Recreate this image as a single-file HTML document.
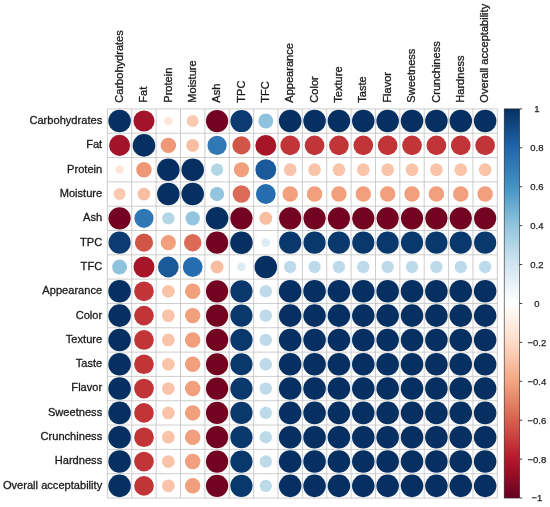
<!DOCTYPE html>
<html><head><meta charset="utf-8"><title>Correlation plot</title>
<style>html,body{margin:0;padding:0;background:#fff}body{width:550px;height:507px;position:relative;overflow:hidden}svg text{font-family:"Liberation Sans",sans-serif}</style>
</head><body>
<svg width="550" height="507" viewBox="0 0 550 507" style="position:absolute;left:0;top:0">
<rect width="550" height="507" fill="#fff"/>
<path d="M107.40 108.90V498.02M107.40 108.90H497.32M131.77 108.90V498.02M107.40 133.22H497.32M156.14 108.90V498.02M107.40 157.54H497.32M180.51 108.90V498.02M107.40 181.86H497.32M204.88 108.90V498.02M107.40 206.18H497.32M229.25 108.90V498.02M107.40 230.50H497.32M253.62 108.90V498.02M107.40 254.82H497.32M277.99 108.90V498.02M107.40 279.14H497.32M302.36 108.90V498.02M107.40 303.46H497.32M326.73 108.90V498.02M107.40 327.78H497.32M351.10 108.90V498.02M107.40 352.10H497.32M375.47 108.90V498.02M107.40 376.42H497.32M399.84 108.90V498.02M107.40 400.74H497.32M424.21 108.90V498.02M107.40 425.06H497.32M448.58 108.90V498.02M107.40 449.38H497.32M472.95 108.90V498.02M107.40 473.70H497.32M497.32 108.90V498.02M107.40 498.02H497.32" stroke="#c0c0c0" stroke-width="0.8" fill="none"/>
<circle cx="119.59" cy="121.06" r="11.28" fill="#053061"/>
<circle cx="143.96" cy="121.06" r="10.52" fill="#a31329"/>
<circle cx="168.33" cy="121.06" r="4.22" fill="#fee5d6"/>
<circle cx="192.69" cy="121.06" r="5.97" fill="#fac9b0"/>
<circle cx="217.06" cy="121.06" r="11.11" fill="#720421"/>
<circle cx="241.44" cy="121.06" r="11.06" fill="#0b3b70"/>
<circle cx="265.81" cy="121.06" r="7.48" fill="#8fc3dd"/>
<circle cx="290.18" cy="121.06" r="11.28" fill="#053061"/>
<circle cx="314.55" cy="121.06" r="11.28" fill="#053061"/>
<circle cx="338.92" cy="121.06" r="11.28" fill="#053061"/>
<circle cx="363.29" cy="121.06" r="11.28" fill="#053061"/>
<circle cx="387.65" cy="121.06" r="11.28" fill="#053061"/>
<circle cx="412.02" cy="121.06" r="11.28" fill="#053061"/>
<circle cx="436.39" cy="121.06" r="11.28" fill="#053061"/>
<circle cx="460.76" cy="121.06" r="11.28" fill="#053061"/>
<circle cx="485.13" cy="121.06" r="11.28" fill="#053061"/>
<circle cx="119.59" cy="145.38" r="10.52" fill="#a31329"/>
<circle cx="143.96" cy="145.38" r="11.28" fill="#053061"/>
<circle cx="168.33" cy="145.38" r="7.74" fill="#ee9878"/>
<circle cx="192.69" cy="145.38" r="6.38" fill="#f8bea2"/>
<circle cx="217.06" cy="145.38" r="9.57" fill="#2f78b5"/>
<circle cx="241.44" cy="145.38" r="9.10" fill="#d15648"/>
<circle cx="265.81" cy="145.38" r="10.46" fill="#a71529"/>
<circle cx="290.18" cy="145.38" r="9.84" fill="#c13539"/>
<circle cx="314.55" cy="145.38" r="9.84" fill="#c13539"/>
<circle cx="338.92" cy="145.38" r="9.84" fill="#c13539"/>
<circle cx="363.29" cy="145.38" r="9.84" fill="#c13539"/>
<circle cx="387.65" cy="145.38" r="9.84" fill="#c13539"/>
<circle cx="412.02" cy="145.38" r="9.84" fill="#c13539"/>
<circle cx="436.39" cy="145.38" r="9.84" fill="#c13539"/>
<circle cx="460.76" cy="145.38" r="9.84" fill="#c13539"/>
<circle cx="485.13" cy="145.38" r="9.84" fill="#c13539"/>
<circle cx="119.59" cy="169.70" r="4.22" fill="#fee5d6"/>
<circle cx="143.96" cy="169.70" r="7.74" fill="#ee9878"/>
<circle cx="168.33" cy="169.70" r="11.28" fill="#053061"/>
<circle cx="192.69" cy="169.70" r="11.28" fill="#053061"/>
<circle cx="217.06" cy="169.70" r="6.18" fill="#b3d6e7"/>
<circle cx="241.44" cy="169.70" r="7.57" fill="#f19f7d"/>
<circle cx="265.81" cy="169.70" r="10.40" fill="#1a599a"/>
<circle cx="290.18" cy="169.70" r="6.38" fill="#f9c4a9"/>
<circle cx="314.55" cy="169.70" r="6.38" fill="#f9c4a9"/>
<circle cx="338.92" cy="169.70" r="6.38" fill="#f9c4a9"/>
<circle cx="363.29" cy="169.70" r="6.38" fill="#f9c4a9"/>
<circle cx="387.65" cy="169.70" r="6.38" fill="#f9c4a9"/>
<circle cx="412.02" cy="169.70" r="6.38" fill="#f9c4a9"/>
<circle cx="436.39" cy="169.70" r="6.38" fill="#f9c4a9"/>
<circle cx="460.76" cy="169.70" r="6.38" fill="#f9c4a9"/>
<circle cx="485.13" cy="169.70" r="6.38" fill="#f9c4a9"/>
<circle cx="119.59" cy="194.02" r="5.97" fill="#fac9b0"/>
<circle cx="143.96" cy="194.02" r="6.38" fill="#f8bea2"/>
<circle cx="168.33" cy="194.02" r="11.28" fill="#053061"/>
<circle cx="192.69" cy="194.02" r="11.28" fill="#053061"/>
<circle cx="217.06" cy="194.02" r="7.14" fill="#93c5de"/>
<circle cx="241.44" cy="194.02" r="8.74" fill="#db6b56"/>
<circle cx="265.81" cy="194.02" r="9.90" fill="#266db0"/>
<circle cx="290.18" cy="194.02" r="7.74" fill="#f19f7d"/>
<circle cx="314.55" cy="194.02" r="7.74" fill="#f19f7d"/>
<circle cx="338.92" cy="194.02" r="7.74" fill="#f19f7d"/>
<circle cx="363.29" cy="194.02" r="7.74" fill="#f19f7d"/>
<circle cx="387.65" cy="194.02" r="7.74" fill="#f19f7d"/>
<circle cx="412.02" cy="194.02" r="7.74" fill="#f19f7d"/>
<circle cx="436.39" cy="194.02" r="7.74" fill="#f19f7d"/>
<circle cx="460.76" cy="194.02" r="7.74" fill="#f19f7d"/>
<circle cx="485.13" cy="194.02" r="7.74" fill="#f19f7d"/>
<circle cx="119.59" cy="218.34" r="11.11" fill="#720421"/>
<circle cx="143.96" cy="218.34" r="9.57" fill="#2f78b5"/>
<circle cx="168.33" cy="218.34" r="6.18" fill="#b3d6e7"/>
<circle cx="192.69" cy="218.34" r="7.14" fill="#93c5de"/>
<circle cx="217.06" cy="218.34" r="11.28" fill="#053061"/>
<circle cx="241.44" cy="218.34" r="11.11" fill="#720421"/>
<circle cx="265.81" cy="218.34" r="6.48" fill="#f8bea2"/>
<circle cx="290.18" cy="218.34" r="11.11" fill="#720421"/>
<circle cx="314.55" cy="218.34" r="11.11" fill="#720421"/>
<circle cx="338.92" cy="218.34" r="11.11" fill="#720421"/>
<circle cx="363.29" cy="218.34" r="11.11" fill="#720421"/>
<circle cx="387.65" cy="218.34" r="11.11" fill="#720421"/>
<circle cx="412.02" cy="218.34" r="11.11" fill="#720421"/>
<circle cx="436.39" cy="218.34" r="11.11" fill="#720421"/>
<circle cx="460.76" cy="218.34" r="11.11" fill="#720421"/>
<circle cx="485.13" cy="218.34" r="11.11" fill="#720421"/>
<circle cx="119.59" cy="242.66" r="11.06" fill="#0b3b70"/>
<circle cx="143.96" cy="242.66" r="9.10" fill="#d15648"/>
<circle cx="168.33" cy="242.66" r="7.57" fill="#f19f7d"/>
<circle cx="192.69" cy="242.66" r="8.74" fill="#db6b56"/>
<circle cx="217.06" cy="242.66" r="11.11" fill="#720421"/>
<circle cx="241.44" cy="242.66" r="11.28" fill="#053061"/>
<circle cx="265.81" cy="242.66" r="4.37" fill="#ddecf4"/>
<circle cx="290.18" cy="242.66" r="11.11" fill="#09386c"/>
<circle cx="314.55" cy="242.66" r="11.11" fill="#09386c"/>
<circle cx="338.92" cy="242.66" r="11.11" fill="#09386c"/>
<circle cx="363.29" cy="242.66" r="11.11" fill="#09386c"/>
<circle cx="387.65" cy="242.66" r="11.11" fill="#09386c"/>
<circle cx="412.02" cy="242.66" r="11.11" fill="#09386c"/>
<circle cx="436.39" cy="242.66" r="11.11" fill="#09386c"/>
<circle cx="460.76" cy="242.66" r="11.11" fill="#09386c"/>
<circle cx="485.13" cy="242.66" r="11.11" fill="#09386c"/>
<circle cx="119.59" cy="266.98" r="7.48" fill="#8fc3dd"/>
<circle cx="143.96" cy="266.98" r="10.46" fill="#a71529"/>
<circle cx="168.33" cy="266.98" r="10.40" fill="#1a599a"/>
<circle cx="192.69" cy="266.98" r="9.90" fill="#266db0"/>
<circle cx="217.06" cy="266.98" r="6.48" fill="#f8bea2"/>
<circle cx="241.44" cy="266.98" r="4.37" fill="#ddecf4"/>
<circle cx="265.81" cy="266.98" r="11.28" fill="#053061"/>
<circle cx="290.18" cy="266.98" r="6.18" fill="#bcdaea"/>
<circle cx="314.55" cy="266.98" r="6.18" fill="#bcdaea"/>
<circle cx="338.92" cy="266.98" r="6.18" fill="#bcdaea"/>
<circle cx="363.29" cy="266.98" r="6.18" fill="#bcdaea"/>
<circle cx="387.65" cy="266.98" r="6.18" fill="#bcdaea"/>
<circle cx="412.02" cy="266.98" r="6.18" fill="#bcdaea"/>
<circle cx="436.39" cy="266.98" r="6.18" fill="#bcdaea"/>
<circle cx="460.76" cy="266.98" r="6.18" fill="#bcdaea"/>
<circle cx="485.13" cy="266.98" r="6.18" fill="#bcdaea"/>
<circle cx="119.59" cy="291.30" r="11.28" fill="#053061"/>
<circle cx="143.96" cy="291.30" r="9.84" fill="#c13539"/>
<circle cx="168.33" cy="291.30" r="6.38" fill="#f9c4a9"/>
<circle cx="192.69" cy="291.30" r="7.74" fill="#f19f7d"/>
<circle cx="217.06" cy="291.30" r="11.11" fill="#720421"/>
<circle cx="241.44" cy="291.30" r="11.11" fill="#09386c"/>
<circle cx="265.81" cy="291.30" r="6.18" fill="#bcdaea"/>
<circle cx="290.18" cy="291.30" r="11.28" fill="#053061"/>
<circle cx="314.55" cy="291.30" r="11.28" fill="#053061"/>
<circle cx="338.92" cy="291.30" r="11.28" fill="#053061"/>
<circle cx="363.29" cy="291.30" r="11.28" fill="#053061"/>
<circle cx="387.65" cy="291.30" r="11.28" fill="#053061"/>
<circle cx="412.02" cy="291.30" r="11.28" fill="#053061"/>
<circle cx="436.39" cy="291.30" r="11.28" fill="#053061"/>
<circle cx="460.76" cy="291.30" r="11.28" fill="#053061"/>
<circle cx="485.13" cy="291.30" r="11.28" fill="#053061"/>
<circle cx="119.59" cy="315.62" r="11.28" fill="#053061"/>
<circle cx="143.96" cy="315.62" r="9.84" fill="#c13539"/>
<circle cx="168.33" cy="315.62" r="6.38" fill="#f9c4a9"/>
<circle cx="192.69" cy="315.62" r="7.74" fill="#f19f7d"/>
<circle cx="217.06" cy="315.62" r="11.11" fill="#720421"/>
<circle cx="241.44" cy="315.62" r="11.11" fill="#09386c"/>
<circle cx="265.81" cy="315.62" r="6.18" fill="#bcdaea"/>
<circle cx="290.18" cy="315.62" r="11.28" fill="#053061"/>
<circle cx="314.55" cy="315.62" r="11.28" fill="#053061"/>
<circle cx="338.92" cy="315.62" r="11.28" fill="#053061"/>
<circle cx="363.29" cy="315.62" r="11.28" fill="#053061"/>
<circle cx="387.65" cy="315.62" r="11.28" fill="#053061"/>
<circle cx="412.02" cy="315.62" r="11.28" fill="#053061"/>
<circle cx="436.39" cy="315.62" r="11.28" fill="#053061"/>
<circle cx="460.76" cy="315.62" r="11.28" fill="#053061"/>
<circle cx="485.13" cy="315.62" r="11.28" fill="#053061"/>
<circle cx="119.59" cy="339.94" r="11.28" fill="#053061"/>
<circle cx="143.96" cy="339.94" r="9.84" fill="#c13539"/>
<circle cx="168.33" cy="339.94" r="6.38" fill="#f9c4a9"/>
<circle cx="192.69" cy="339.94" r="7.74" fill="#f19f7d"/>
<circle cx="217.06" cy="339.94" r="11.11" fill="#720421"/>
<circle cx="241.44" cy="339.94" r="11.11" fill="#09386c"/>
<circle cx="265.81" cy="339.94" r="6.18" fill="#bcdaea"/>
<circle cx="290.18" cy="339.94" r="11.28" fill="#053061"/>
<circle cx="314.55" cy="339.94" r="11.28" fill="#053061"/>
<circle cx="338.92" cy="339.94" r="11.28" fill="#053061"/>
<circle cx="363.29" cy="339.94" r="11.28" fill="#053061"/>
<circle cx="387.65" cy="339.94" r="11.28" fill="#053061"/>
<circle cx="412.02" cy="339.94" r="11.28" fill="#053061"/>
<circle cx="436.39" cy="339.94" r="11.28" fill="#053061"/>
<circle cx="460.76" cy="339.94" r="11.28" fill="#053061"/>
<circle cx="485.13" cy="339.94" r="11.28" fill="#053061"/>
<circle cx="119.59" cy="364.26" r="11.28" fill="#053061"/>
<circle cx="143.96" cy="364.26" r="9.84" fill="#c13539"/>
<circle cx="168.33" cy="364.26" r="6.38" fill="#f9c4a9"/>
<circle cx="192.69" cy="364.26" r="7.74" fill="#f19f7d"/>
<circle cx="217.06" cy="364.26" r="11.11" fill="#720421"/>
<circle cx="241.44" cy="364.26" r="11.11" fill="#09386c"/>
<circle cx="265.81" cy="364.26" r="6.18" fill="#bcdaea"/>
<circle cx="290.18" cy="364.26" r="11.28" fill="#053061"/>
<circle cx="314.55" cy="364.26" r="11.28" fill="#053061"/>
<circle cx="338.92" cy="364.26" r="11.28" fill="#053061"/>
<circle cx="363.29" cy="364.26" r="11.28" fill="#053061"/>
<circle cx="387.65" cy="364.26" r="11.28" fill="#053061"/>
<circle cx="412.02" cy="364.26" r="11.28" fill="#053061"/>
<circle cx="436.39" cy="364.26" r="11.28" fill="#053061"/>
<circle cx="460.76" cy="364.26" r="11.28" fill="#053061"/>
<circle cx="485.13" cy="364.26" r="11.28" fill="#053061"/>
<circle cx="119.59" cy="388.58" r="11.28" fill="#053061"/>
<circle cx="143.96" cy="388.58" r="9.84" fill="#c13539"/>
<circle cx="168.33" cy="388.58" r="6.38" fill="#f9c4a9"/>
<circle cx="192.69" cy="388.58" r="7.74" fill="#f19f7d"/>
<circle cx="217.06" cy="388.58" r="11.11" fill="#720421"/>
<circle cx="241.44" cy="388.58" r="11.11" fill="#09386c"/>
<circle cx="265.81" cy="388.58" r="6.18" fill="#bcdaea"/>
<circle cx="290.18" cy="388.58" r="11.28" fill="#053061"/>
<circle cx="314.55" cy="388.58" r="11.28" fill="#053061"/>
<circle cx="338.92" cy="388.58" r="11.28" fill="#053061"/>
<circle cx="363.29" cy="388.58" r="11.28" fill="#053061"/>
<circle cx="387.65" cy="388.58" r="11.28" fill="#053061"/>
<circle cx="412.02" cy="388.58" r="11.28" fill="#053061"/>
<circle cx="436.39" cy="388.58" r="11.28" fill="#053061"/>
<circle cx="460.76" cy="388.58" r="11.28" fill="#053061"/>
<circle cx="485.13" cy="388.58" r="11.28" fill="#053061"/>
<circle cx="119.59" cy="412.90" r="11.28" fill="#053061"/>
<circle cx="143.96" cy="412.90" r="9.84" fill="#c13539"/>
<circle cx="168.33" cy="412.90" r="6.38" fill="#f9c4a9"/>
<circle cx="192.69" cy="412.90" r="7.74" fill="#f19f7d"/>
<circle cx="217.06" cy="412.90" r="11.11" fill="#720421"/>
<circle cx="241.44" cy="412.90" r="11.11" fill="#09386c"/>
<circle cx="265.81" cy="412.90" r="6.18" fill="#bcdaea"/>
<circle cx="290.18" cy="412.90" r="11.28" fill="#053061"/>
<circle cx="314.55" cy="412.90" r="11.28" fill="#053061"/>
<circle cx="338.92" cy="412.90" r="11.28" fill="#053061"/>
<circle cx="363.29" cy="412.90" r="11.28" fill="#053061"/>
<circle cx="387.65" cy="412.90" r="11.28" fill="#053061"/>
<circle cx="412.02" cy="412.90" r="11.28" fill="#053061"/>
<circle cx="436.39" cy="412.90" r="11.28" fill="#053061"/>
<circle cx="460.76" cy="412.90" r="11.28" fill="#053061"/>
<circle cx="485.13" cy="412.90" r="11.28" fill="#053061"/>
<circle cx="119.59" cy="437.22" r="11.28" fill="#053061"/>
<circle cx="143.96" cy="437.22" r="9.84" fill="#c13539"/>
<circle cx="168.33" cy="437.22" r="6.38" fill="#f9c4a9"/>
<circle cx="192.69" cy="437.22" r="7.74" fill="#f19f7d"/>
<circle cx="217.06" cy="437.22" r="11.11" fill="#720421"/>
<circle cx="241.44" cy="437.22" r="11.11" fill="#09386c"/>
<circle cx="265.81" cy="437.22" r="6.18" fill="#bcdaea"/>
<circle cx="290.18" cy="437.22" r="11.28" fill="#053061"/>
<circle cx="314.55" cy="437.22" r="11.28" fill="#053061"/>
<circle cx="338.92" cy="437.22" r="11.28" fill="#053061"/>
<circle cx="363.29" cy="437.22" r="11.28" fill="#053061"/>
<circle cx="387.65" cy="437.22" r="11.28" fill="#053061"/>
<circle cx="412.02" cy="437.22" r="11.28" fill="#053061"/>
<circle cx="436.39" cy="437.22" r="11.28" fill="#053061"/>
<circle cx="460.76" cy="437.22" r="11.28" fill="#053061"/>
<circle cx="485.13" cy="437.22" r="11.28" fill="#053061"/>
<circle cx="119.59" cy="461.54" r="11.28" fill="#053061"/>
<circle cx="143.96" cy="461.54" r="9.84" fill="#c13539"/>
<circle cx="168.33" cy="461.54" r="6.38" fill="#f9c4a9"/>
<circle cx="192.69" cy="461.54" r="7.74" fill="#f19f7d"/>
<circle cx="217.06" cy="461.54" r="11.11" fill="#720421"/>
<circle cx="241.44" cy="461.54" r="11.11" fill="#09386c"/>
<circle cx="265.81" cy="461.54" r="6.18" fill="#bcdaea"/>
<circle cx="290.18" cy="461.54" r="11.28" fill="#053061"/>
<circle cx="314.55" cy="461.54" r="11.28" fill="#053061"/>
<circle cx="338.92" cy="461.54" r="11.28" fill="#053061"/>
<circle cx="363.29" cy="461.54" r="11.28" fill="#053061"/>
<circle cx="387.65" cy="461.54" r="11.28" fill="#053061"/>
<circle cx="412.02" cy="461.54" r="11.28" fill="#053061"/>
<circle cx="436.39" cy="461.54" r="11.28" fill="#053061"/>
<circle cx="460.76" cy="461.54" r="11.28" fill="#053061"/>
<circle cx="485.13" cy="461.54" r="11.28" fill="#053061"/>
<circle cx="119.59" cy="485.86" r="11.28" fill="#053061"/>
<circle cx="143.96" cy="485.86" r="9.84" fill="#c13539"/>
<circle cx="168.33" cy="485.86" r="6.38" fill="#f9c4a9"/>
<circle cx="192.69" cy="485.86" r="7.74" fill="#f19f7d"/>
<circle cx="217.06" cy="485.86" r="11.11" fill="#720421"/>
<circle cx="241.44" cy="485.86" r="11.11" fill="#09386c"/>
<circle cx="265.81" cy="485.86" r="6.18" fill="#bcdaea"/>
<circle cx="290.18" cy="485.86" r="11.28" fill="#053061"/>
<circle cx="314.55" cy="485.86" r="11.28" fill="#053061"/>
<circle cx="338.92" cy="485.86" r="11.28" fill="#053061"/>
<circle cx="363.29" cy="485.86" r="11.28" fill="#053061"/>
<circle cx="387.65" cy="485.86" r="11.28" fill="#053061"/>
<circle cx="412.02" cy="485.86" r="11.28" fill="#053061"/>
<circle cx="436.39" cy="485.86" r="11.28" fill="#053061"/>
<circle cx="460.76" cy="485.86" r="11.28" fill="#053061"/>
<circle cx="485.13" cy="485.86" r="11.28" fill="#053061"/>
<defs><linearGradient id="cb" x1="0" y1="0" x2="0" y2="1">
<stop offset="0.00" stop-color="#053061"/>
<stop offset="0.10" stop-color="#2166AC"/>
<stop offset="0.20" stop-color="#4393C3"/>
<stop offset="0.30" stop-color="#92C5DE"/>
<stop offset="0.40" stop-color="#D1E5F0"/>
<stop offset="0.50" stop-color="#FFFFFF"/>
<stop offset="0.60" stop-color="#FDDBC7"/>
<stop offset="0.70" stop-color="#F4A582"/>
<stop offset="0.80" stop-color="#D6604D"/>
<stop offset="0.90" stop-color="#B2182B"/>
<stop offset="1.00" stop-color="#67001F"/>
</linearGradient></defs>
<rect x="504.2" y="108.90" width="15.40" height="389.12" fill="url(#cb)" stroke="#222" stroke-width="0.6"/>
<path d="M519.6 108.90h2.6" stroke="#222" stroke-width="0.9"/>
<text x="536.9" y="112.30" font-size="9.5" text-anchor="middle" fill="#222" stroke="#222" stroke-width="0.25">1</text>
<path d="M519.6 147.81h2.6" stroke="#222" stroke-width="0.9"/>
<text x="536.9" y="151.41" font-size="9.5" text-anchor="middle" fill="#222" stroke="#222" stroke-width="0.25">0.8</text>
<path d="M519.6 186.72h2.6" stroke="#222" stroke-width="0.9"/>
<text x="536.9" y="190.32" font-size="9.5" text-anchor="middle" fill="#222" stroke="#222" stroke-width="0.25">0.6</text>
<path d="M519.6 225.64h2.6" stroke="#222" stroke-width="0.9"/>
<text x="536.9" y="229.24" font-size="9.5" text-anchor="middle" fill="#222" stroke="#222" stroke-width="0.25">0.4</text>
<path d="M519.6 264.55h2.6" stroke="#222" stroke-width="0.9"/>
<text x="536.9" y="268.15" font-size="9.5" text-anchor="middle" fill="#222" stroke="#222" stroke-width="0.25">0.2</text>
<path d="M519.6 303.46h2.6" stroke="#222" stroke-width="0.9"/>
<text x="536.9" y="307.06" font-size="9.5" text-anchor="middle" fill="#222" stroke="#222" stroke-width="0.25">0</text>
<path d="M519.6 342.37h2.6" stroke="#222" stroke-width="0.9"/>
<text x="536.9" y="345.97" font-size="9.5" text-anchor="middle" fill="#222" stroke="#222" stroke-width="0.25">−0.2</text>
<path d="M519.6 381.28h2.6" stroke="#222" stroke-width="0.9"/>
<text x="536.9" y="384.88" font-size="9.5" text-anchor="middle" fill="#222" stroke="#222" stroke-width="0.25">−0.4</text>
<path d="M519.6 420.20h2.6" stroke="#222" stroke-width="0.9"/>
<text x="536.9" y="423.80" font-size="9.5" text-anchor="middle" fill="#222" stroke="#222" stroke-width="0.25">−0.6</text>
<path d="M519.6 459.11h2.6" stroke="#222" stroke-width="0.9"/>
<text x="536.9" y="462.71" font-size="9.5" text-anchor="middle" fill="#222" stroke="#222" stroke-width="0.25">−0.8</text>
<path d="M519.6 498.02h2.6" stroke="#222" stroke-width="0.9"/>
<text x="536.9" y="500.82" font-size="9.5" text-anchor="middle" fill="#222" stroke="#222" stroke-width="0.25">−1</text>
<text x="102.2" y="123.96" font-size="11.1" text-anchor="end" fill="#1a1a1a" stroke="#1a1a1a" stroke-width="0.3">Carbohydrates</text>
<text x="102.2" y="148.28" font-size="11.1" text-anchor="end" fill="#1a1a1a" stroke="#1a1a1a" stroke-width="0.3">Fat</text>
<text x="102.2" y="172.60" font-size="11.1" text-anchor="end" fill="#1a1a1a" stroke="#1a1a1a" stroke-width="0.3">Protein</text>
<text x="102.2" y="196.92" font-size="11.1" text-anchor="end" fill="#1a1a1a" stroke="#1a1a1a" stroke-width="0.3">Moisture</text>
<text x="102.2" y="221.24" font-size="11.1" text-anchor="end" fill="#1a1a1a" stroke="#1a1a1a" stroke-width="0.3">Ash</text>
<text x="102.2" y="245.56" font-size="11.1" text-anchor="end" fill="#1a1a1a" stroke="#1a1a1a" stroke-width="0.3">TPC</text>
<text x="102.2" y="269.88" font-size="11.1" text-anchor="end" fill="#1a1a1a" stroke="#1a1a1a" stroke-width="0.3">TFC</text>
<text x="102.2" y="294.20" font-size="11.1" text-anchor="end" fill="#1a1a1a" stroke="#1a1a1a" stroke-width="0.3">Appearance</text>
<text x="102.2" y="318.52" font-size="11.1" text-anchor="end" fill="#1a1a1a" stroke="#1a1a1a" stroke-width="0.3">Color</text>
<text x="102.2" y="342.84" font-size="11.1" text-anchor="end" fill="#1a1a1a" stroke="#1a1a1a" stroke-width="0.3">Texture</text>
<text x="102.2" y="367.16" font-size="11.1" text-anchor="end" fill="#1a1a1a" stroke="#1a1a1a" stroke-width="0.3">Taste</text>
<text x="102.2" y="391.48" font-size="11.1" text-anchor="end" fill="#1a1a1a" stroke="#1a1a1a" stroke-width="0.3">Flavor</text>
<text x="102.2" y="415.80" font-size="11.1" text-anchor="end" fill="#1a1a1a" stroke="#1a1a1a" stroke-width="0.3">Sweetness</text>
<text x="102.2" y="440.12" font-size="11.1" text-anchor="end" fill="#1a1a1a" stroke="#1a1a1a" stroke-width="0.3">Crunchiness</text>
<text x="102.2" y="464.44" font-size="11.1" text-anchor="end" fill="#1a1a1a" stroke="#1a1a1a" stroke-width="0.3">Hardness</text>
<text x="102.2" y="488.76" font-size="11.1" text-anchor="end" fill="#1a1a1a" stroke="#1a1a1a" stroke-width="0.3">Overall acceptability</text>
<text transform="translate(122.79 102.7) rotate(-90)" font-size="11.05" fill="#1a1a1a" stroke="#1a1a1a" stroke-width="0.3">Carbohydrates</text>
<text transform="translate(147.16 102.7) rotate(-90)" font-size="11.05" fill="#1a1a1a" stroke="#1a1a1a" stroke-width="0.3">Fat</text>
<text transform="translate(171.53 102.7) rotate(-90)" font-size="11.05" fill="#1a1a1a" stroke="#1a1a1a" stroke-width="0.3">Protein</text>
<text transform="translate(195.89 102.7) rotate(-90)" font-size="11.05" fill="#1a1a1a" stroke="#1a1a1a" stroke-width="0.3">Moisture</text>
<text transform="translate(220.26 102.7) rotate(-90)" font-size="11.05" fill="#1a1a1a" stroke="#1a1a1a" stroke-width="0.3">Ash</text>
<text transform="translate(244.63 102.7) rotate(-90)" font-size="11.05" fill="#1a1a1a" stroke="#1a1a1a" stroke-width="0.3">TPC</text>
<text transform="translate(269.00 102.7) rotate(-90)" font-size="11.05" fill="#1a1a1a" stroke="#1a1a1a" stroke-width="0.3">TFC</text>
<text transform="translate(293.38 102.7) rotate(-90)" font-size="11.05" fill="#1a1a1a" stroke="#1a1a1a" stroke-width="0.3">Appearance</text>
<text transform="translate(317.75 102.7) rotate(-90)" font-size="11.05" fill="#1a1a1a" stroke="#1a1a1a" stroke-width="0.3">Color</text>
<text transform="translate(342.12 102.7) rotate(-90)" font-size="11.05" fill="#1a1a1a" stroke="#1a1a1a" stroke-width="0.3">Texture</text>
<text transform="translate(366.49 102.7) rotate(-90)" font-size="11.05" fill="#1a1a1a" stroke="#1a1a1a" stroke-width="0.3">Taste</text>
<text transform="translate(390.85 102.7) rotate(-90)" font-size="11.05" fill="#1a1a1a" stroke="#1a1a1a" stroke-width="0.3">Flavor</text>
<text transform="translate(415.22 102.7) rotate(-90)" font-size="11.05" fill="#1a1a1a" stroke="#1a1a1a" stroke-width="0.3">Sweetness</text>
<text transform="translate(439.59 102.7) rotate(-90)" font-size="11.05" fill="#1a1a1a" stroke="#1a1a1a" stroke-width="0.3">Crunchiness</text>
<text transform="translate(463.96 102.7) rotate(-90)" font-size="11.05" fill="#1a1a1a" stroke="#1a1a1a" stroke-width="0.3">Hardness</text>
<text transform="translate(488.33 102.7) rotate(-90)" font-size="11.05" fill="#1a1a1a" stroke="#1a1a1a" stroke-width="0.3">Overall acceptability</text>
</svg>
</body></html>
